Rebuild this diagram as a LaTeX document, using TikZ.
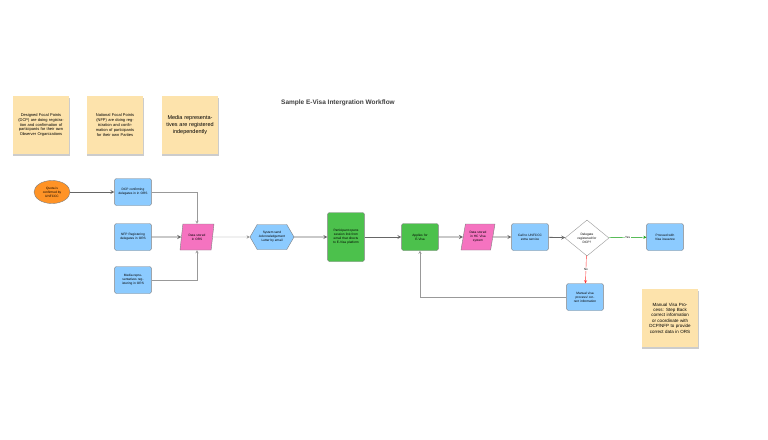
\documentclass[tikz,border=0pt]{standalone}
\usepackage{fontspec}
\setmainfont{Liberation Sans}
\usetikzlibrary{positioning,arrows,shapes.geometric,shapes.symbols,shadows}

\begin{document}
\begin{tikzpicture}[x=1pt,y=-1pt,
    note/.style={rectangle, fill=yellow!35!orange!30, draw=none, minimum width=55, minimum height=58, align=center, text width=50, font=\fontsize{4}{4.8}\selectfont, drop shadow={shadow xshift=0.5pt, shadow yshift=-1.5pt, opacity=0.4}},
    stepnode/.style={rectangle, rounded corners=1.5pt, draw=black!50, fill=blue!45!cyan!45, minimum width=34, minimum height=27, align=center, text width=30, font=\fontsize{3.2}{3.9}\selectfont},
    greennode/.style={stepnode, fill=green!65!black!70},
    datanode/.style={trapezium, trapezium left angle=72, trapezium right angle=108, trapezium stretches=true, draw=black!50, fill=magenta!55, minimum width=34, minimum height=26, inner sep=0pt, text width=20, align=center, font=\fontsize{3.2}{3.9}\selectfont},
    flow/.style={->, >=stealth, draw=black!60, thick},
    lite/.style={->, >=stealth, draw=black!40, thin}
    ]
        \useasboundingbox[fill=white] (0,0) rectangle (768,439);
        %Notes
        \node[note] (dcpnote) at (41,125) {Designed Focal Points (DCP) are doing registration and confirmation of participants for their own Observer Organizations};
        \node[note] (nfpnote) at (115,125) {National Focal Points (NFP) are doing registration and confirmation of participants for their own Parties};
        \node[note, font=\fontsize{5.5}{6.6}\selectfont] (medianote) at (190,125) {Media representatives are registered independently};
        \node[font=\bfseries\fontsize{6.5}{7}\selectfont, text=black!75] (title) at (338,103) {Sample E-Visa Intergration Workflow};
        \node[note, font=\fontsize{4.5}{5.4}\selectfont] (manualnote) at (670,318) {Manual Visa Process: Step Back correct information or coordinate with DCP/NFP to provide correct data in ORS};

        %Nodes
        \node[ellipse, draw=black!50, fill=orange!85, minimum width=36, minimum height=23, inner sep=0pt, align=center, font=\fontsize{3.2}{3.9}\selectfont] (quota) at (52,192) {Quota is\\confirmed by\\UNFCCC};
        \node[stepnode] (dcp) at (133,192) {DCP confirming delegates in in ORS};
        \node[stepnode] (nfp) at (133,237) {NFP Registering delegates in ORS};
        \node[stepnode] (media) at (133,280) {Media representatives registering in ORS};
        \node[datanode] (ors) at (197,237) {Data stored\\in ORS};
        \node[signal, signal to=east and west, signal pointer angle=120, draw=black!50, fill=blue!45!cyan!45, minimum width=44, minimum height=25, inner sep=1pt, align=center, font=\fontsize{3.2}{3.9}\selectfont] (ack) at (272,237) {System send\\Acknowledgement\\Letter by email};
        \node[greennode, minimum height=49] (link) at (346,237) {Participant opens session link from email that directs to E-Visa platform};
        \node[greennode] (apply) at (420,237) {Applies for\\E-Visa};
        \node[datanode] (hc) at (478,237) {Data stored\\in HC Visa\\system};
        \node[stepnode] (call) at (530,237) {Call to UNFCCC extra service};
        \node[diamond, draw=black!40, fill=white, minimum width=44, minimum height=36, inner sep=0pt, align=center, font=\fontsize{3.2}{3.9}\selectfont] (check) at (587,238) {Delegate\\registered for\\DCP?};
        \node[stepnode] (visa) at (665,237) {Proceed with Visa issuance};
        \node[stepnode] (manual) at (585,297) {Manual visa process/ correct information};

        %Lines
        \draw[flow] (quota) -- (dcp);
        \draw[lite] (dcp.east) -| (ors.north);
        \draw[flow] (nfp) -- (ors);
        \draw[lite] (media.east) -| (ors.south);
        \draw[->, >=stealth, draw=black!45] (ors) -- (ack);
        \draw[flow] (ack) -- (link);
        \draw[flow] (link) -- (apply);
        \draw[flow] (apply) -- (hc);
        \draw[flow] (hc) -- (call);
        \draw[flow] (call) -- (check);
        \draw[->, >=stealth, draw=green!60!black, thin] (check) -- node[fill=white, inner sep=0.5pt, font=\fontsize{3}{3}\selectfont] {Yes} (visa);
        \draw[->, >=stealth, draw=red!80, thin] (check) -- node[fill=white, inner sep=0.5pt, font=\fontsize{3}{3}\selectfont] {No} (manual);
        \draw[lite] (manual.west) -| (apply.south);
    \end{tikzpicture}
\end{document}
